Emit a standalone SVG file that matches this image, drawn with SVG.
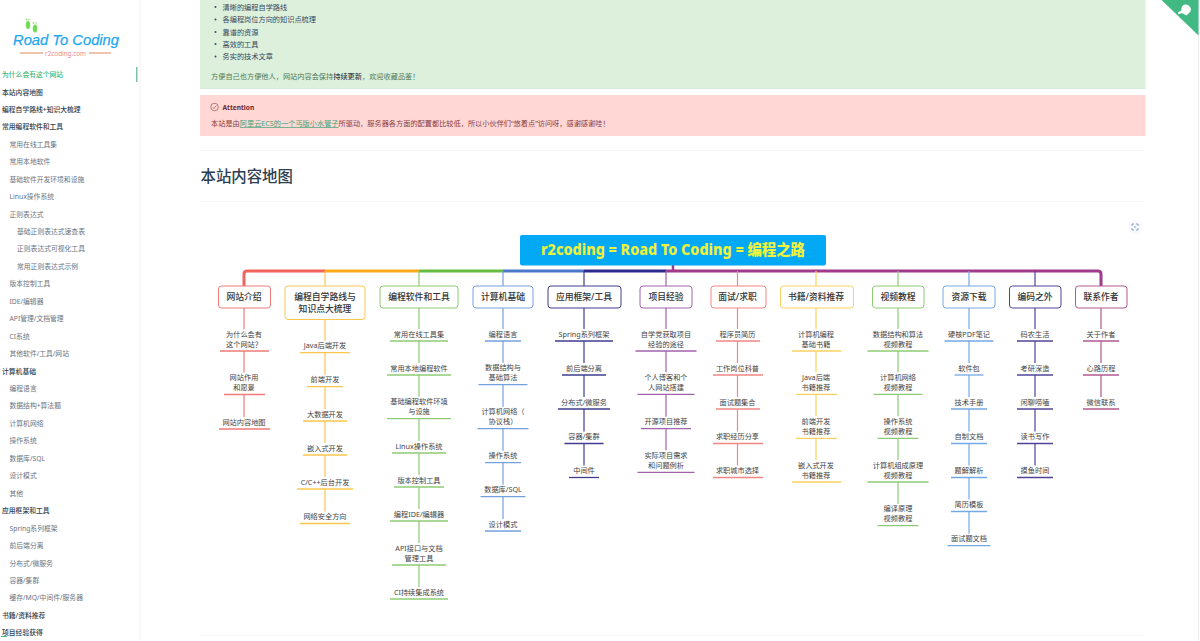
<svg xmlns="http://www.w3.org/2000/svg" width="1200" height="641" viewBox="0 0 1200 641">
<style>
text{font-family:"Noto Sans","Noto Sans CJK SC",sans-serif}
.s0{font-size:6.8px;fill:#2c3e50;font-weight:500}
.s1{font-size:6.8px;fill:#6a7480}
.s2{font-size:6.8px;fill:#6a7480}
.li{font-size:7.2px;fill:#34495e}
.p{font-size:7.2px;fill:#4f7a5a}
.w{font-size:7.2px;fill:#8a3a3a}
.l{font-size:7.2px;fill:#444;text-anchor:middle}
.t{font-size:8.8px;fill:#333;text-anchor:middle;font-weight:500}
.n path{stroke-width:1.300;fill:none}
.n rect{stroke-width:1;fill:#fff}
.c1 path,.c1 rect{stroke:#ee7b78}
.c2 path,.c2 rect{stroke:#fbc64e}
.c3 path,.c3 rect{stroke:#8ccb74}
.c4 path,.c4 rect{stroke:#74a0dd}
.c5 path,.c5 rect{stroke:#413c90}
.c6 path,.c6 rect{stroke:#a063ac}
.c7 path,.c7 rect{stroke:#f18782}
.c8 path,.c8 rect{stroke:#fdd160}
.c9 path,.c9 rect{stroke:#8ccb74}
.c10 path,.c10 rect{stroke:#74a8e4}
.c11 path,.c11 rect{stroke:#4f4498}
.c12 path,.c12 rect{stroke:#b2588f}
.n text{stroke:none}
#connectors path{fill:none;stroke-width:1.2}
#connectors #bar path{stroke-width:3}
</style>
<rect width="1200" height="641" fill="#fff"/>
<path d="M140 0V641" stroke="#f3f3f3" stroke-width="1"/>
<path d="M1198.500 0V641" stroke="#eeeeee" stroke-width="1"/>

<g id="logo">
<ellipse cx="28" cy="25" rx="2.200" ry="4" fill="#6fdc52"/>
<ellipse cx="35" cy="28.500" rx="2.200" ry="4" fill="#6fdc52"/>
<circle cx="26.500" cy="19.500" r="0.900" fill="#8fe676"/><circle cx="29" cy="19.500" r="0.800" fill="#8fe676"/>
<circle cx="33.500" cy="23" r="0.900" fill="#8fe676"/><circle cx="36" cy="23" r="0.800" fill="#8fe676"/>
<text x="13" y="45" font-size="15.500" font-style="italic" fill="#1ea7f0" stroke="#1ea7f0" stroke-width="0.250" textLength="106" lengthAdjust="spacingAndGlyphs" style="font-family:'Liberation Sans',sans-serif">Road To Coding</text>
<path d="M20 53H43M89 53H111" stroke="#e08a5c" stroke-width="1.200"/>
<text x="45" y="55.500" font-size="6.300" fill="#e98a8a" textLength="41">r2coding.com</text>
</g>

<g id="sidebar">
<rect x="136" y="67" width="1.500" height="15" fill="#7dbfa8"/>
<text x="2" y="77" class="s0" style="fill:#42b983">为什么会有这个网站</text>
<text x="2" y="94.500" class="s0">本站内容地图</text>
<text x="2" y="112" class="s0">编程自学路线+知识大梳理</text>
<text x="2" y="129" class="s0">常用编程软件和工具</text>
<text x="9.500" y="146.500" class="s1">常用在线工具集</text>
<text x="9.500" y="164" class="s1">常用本地软件</text>
<text x="9.500" y="181.500" class="s1">基础软件开发环境和设施</text>
<text x="9.500" y="199" class="s1">Linux操作系统</text>
<text x="9.500" y="216.500" class="s1">正则表达式</text>
<text x="17" y="233.500" class="s2">基础正则表达式速查表</text>
<text x="17" y="251" class="s2">正则表达式可视化工具</text>
<text x="17" y="268.500" class="s2">常用正则表达式示例</text>
<text x="9.500" y="286" class="s1">版本控制工具</text>
<text x="9.500" y="303.500" class="s1">IDE/编辑器</text>
<text x="9.500" y="321" class="s1">API管理/文档管理</text>
<text x="9.500" y="338.500" class="s1">CI系统</text>
<text x="9.500" y="356" class="s1">其他软件/工具/网站</text>
<text x="2" y="373.500" class="s0">计算机基础</text>
<text x="9.500" y="390.500" class="s1">编程语言</text>
<text x="9.500" y="408" class="s1">数据结构+算法题</text>
<text x="9.500" y="425.500" class="s1">计算机网络</text>
<text x="9.500" y="443" class="s1">操作系统</text>
<text x="9.500" y="460.500" class="s1">数据库/SQL</text>
<text x="9.500" y="478" class="s1">设计模式</text>
<text x="9.500" y="495.500" class="s1">其他</text>
<text x="2" y="513" class="s0">应用框架和工具</text>
<text x="9.500" y="530.500" class="s1">Spring系列框架</text>
<text x="9.500" y="548" class="s1">前后端分离</text>
<text x="9.500" y="565.500" class="s1">分布式/微服务</text>
<text x="9.500" y="582.500" class="s1">容器/集群</text>
<text x="9.500" y="600" class="s1">缓存/MQ/中间件/服务器</text>
<text x="2" y="617.500" class="s0">书籍/资料推荐</text>
<text x="2" y="635" class="s0">项目经验获得</text>
<path d="M1 636.500H7" stroke="#42b983" stroke-width="1"/>
</g>

<g id="notice-green">
<rect x="200" y="0" width="945.500" height="88.500" fill="#ddf0dc"/>
<path d="M200 88.500H1145.500" stroke="#d3e3d3" stroke-width="0.700"/>
<g fill="#34495e"><circle cx="215.500" cy="7" r="1"/><circle cx="215.500" cy="19.500" r="1"/><circle cx="215.500" cy="32" r="1"/><circle cx="215.500" cy="44" r="1"/><circle cx="215.500" cy="56.500" r="1"/></g>
<text x="222.500" y="9.500" class="li">清晰的编程自学路线</text>
<text x="222.500" y="22" class="li">各编程岗位方向的知识点梳理</text>
<text x="222.500" y="34.500" class="li">靠谱的资源</text>
<text x="222.500" y="46.500" class="li">高效的工具</text>
<text x="222.500" y="59" class="li">务实的技术文章</text>
<text x="211" y="78.500" class="p">方便自己也方便他人&#xFF0C;网站内容会保持<tspan fill="#2c3e50" font-weight="500">持续更新</tspan>&#xFF0C;欢迎收藏品鉴&#xFF01;</text>
</g>

<g id="notice-red">
<rect x="200" y="95" width="945.500" height="41" fill="#ffd8d6"/>
<circle cx="214.500" cy="107" r="3.800" fill="none" stroke="#8a3a3a" stroke-width="0.600"/>
<path d="M212.800 107.300L214 108.500L216.300 105.600" fill="none" stroke="#8a3a3a" stroke-width="0.600"/>
<text x="222.500" y="110" font-size="6.600" font-weight="700" fill="#6b2a30">Attention</text>
<text x="211" y="126" class="w">本站是由<tspan fill="#42a47a" text-decoration="underline">阿里云ECS的一个丐版小水管子</tspan>所驱动&#xFF0C;服务器各方面的配置都比较低&#xFF0C;所以小伙伴们&#x201C;悠着点&#x201D;访问呀&#xFF0C;感谢感谢哇&#xFF01;</text>
</g>

<path d="M200 150.500H1145" stroke="#f2f2f2" stroke-width="0.800"/>
<text x="200.500" y="182" font-size="15.400" font-weight="500" fill="#2c3e50">本站内容地图</text>
<path d="M200 201.500H1145" stroke="#f6f6f6" stroke-width="0.800"/>
<path d="M200 635.500H1145" stroke="#f4f4f4" stroke-width="0.800"/>

<g id="fullscreen">
<circle cx="1135" cy="227" r="7" fill="#f7f9fc"/>
<path d="M1132 226V224H1134M1136 224H1138V226M1138 228V230H1136M1134 230H1132V228" fill="none" stroke="#6f8fc0" stroke-width="0.800"/>
<circle cx="1135" cy="227" r="0.800" fill="#6f8fc0"/>
</g>

<g id="corner">
<path d="M1161.500 0H1198.500V35.500Z" fill="#42b983"/>
<path d="M1178 12.500C1179.500 11.500 1181 11 1181.500 10C1181 8.500 1181.800 6 1183 5.500C1184 4.300 1187 4 1188.500 5.500C1190.500 6.500 1191.500 9 1190.500 11.500L1186.500 15.500L1184.500 14.500C1183 13.500 1181.500 13 1180.500 13.500L1178.500 14.500Z" fill="#fff"/>
</g>

<g id="connectors">
<g id="bar">
<path d="M244 286V274Q244 271 247 271H325" stroke="#f0645c"/>
<path d="M325 271H419" stroke="#fbab18"/>
<path d="M419 271H503" stroke="#66bb44"/>
<path d="M503 271H584" stroke="#4a78c8"/>
<path d="M584 271H666" stroke="#2e2a8c"/>
<path d="M666 271H1098Q1101 271 1101 274V286" stroke="#a03a8c"/>
<path d="M673 265V270" stroke="#a03a8c" style="stroke-width:2.500"/>
</g>
<path d="M244 286V329M244 351V372.500M244 394.500V417" stroke="#ee7b78"/>
<path d="M325 271V340.700M325 352.700V374.700M325 386.700V409M325 421V443M325 455V477M325 489V511.500" stroke="#fbc64e"/>
<path d="M419 271V329M419 341V363M419 375V396.700M419 418.700V441M419 453V475M419 487V509M419 521V543M419 565V587" stroke="#8ccb74"/>
<path d="M503 271V329M503 341V362.700M503 384.700V406.700M503 428.700V450.700M503 462.700V484.700M503 496.700V519" stroke="#74a0dd"/>
<path d="M584 271V329M584 341V363M584 375V397M584 409V431.500M584 443.500V465.500" stroke="#413c90"/>
<path d="M666 271V329M666 351V372.300M666 394.300V416.700M666 428.700V450.300" stroke="#a063ac"/>
<path d="M737.500 271V329M737.500 341V363M737.500 375V397M737.500 409V431.500M737.500 443.500V465.500" stroke="#f18782"/>
<path d="M816 271V329M816 351V372.300M816 394.300V416.300M816 438.300V460" stroke="#fdd160"/>
<path d="M898 271V329M898 351V372.300M898 394.300V416.300M898 438.300V460M898 482V503.700" stroke="#8ccb74"/>
<path d="M969 271V329M969 341V363M969 375V397M969 409V431.500M969 443.500V465.500M969 477.500V499.500M969 511.500V533.700" stroke="#74a8e4"/>
<path d="M1035 271V329M1035 341V363M1035 375V397M1035 409V431.500M1035 443.500V465.500" stroke="#4f4498"/>
<path d="M1101 286V329M1101 341V363M1101 375V397" stroke="#b2588f"/>
</g>

<g id="root">
<rect x="520" y="235" width="306" height="30.500" rx="2" fill="#03a9f4"/>
<text x="541" y="255" font-size="15" font-weight="800" fill="#eef23a" textLength="264" lengthAdjust="spacingAndGlyphs">r2coding = Road To Coding = 编程之路</text>
</g>

<g id="t1" class="n c1"><rect x="218.500" y="286" width="52" height="22" rx="3"/><text class="t" x="244" y="300">网站介绍</text></g>
<g id="t2" class="n c2"><rect x="285" y="286" width="80" height="33.500" rx="3"/><text class="t" x="325" y="300">编程自学路线与</text><text class="t" x="325" y="311.500">知识点大梳理</text></g>
<g id="t3" class="n c3"><rect x="380" y="286" width="78" height="22" rx="3"/><text class="t" x="419" y="300">编程软件和工具</text></g>
<g id="t4" class="n c4"><rect x="473" y="286" width="60" height="22" rx="3"/><text class="t" x="503" y="300">计算机基础</text></g>
<g id="t5" class="n c5"><rect x="548" y="286" width="73" height="22" rx="3"/><text class="t" x="584" y="300">应用框架/工具</text></g>
<g id="t6" class="n c6"><rect x="640" y="286" width="52" height="22" rx="3"/><text class="t" x="666" y="300">项目经验</text></g>
<g id="t7" class="n c7"><rect x="711" y="286" width="55" height="22" rx="3"/><text class="t" x="737.500" y="300">面试/求职</text></g>
<g id="t8" class="n c8"><rect x="780.500" y="286" width="73" height="22" rx="3"/><text class="t" x="816" y="300">书籍/资料推荐</text></g>
<g id="t9" class="n c9"><rect x="872.500" y="286" width="51.500" height="22" rx="3"/><text class="t" x="898" y="300">视频教程</text></g>
<g id="t10" class="n c10"><rect x="943" y="286" width="52" height="22" rx="3"/><text class="t" x="969" y="300">资源下载</text></g>
<g id="t11" class="n c11"><rect x="1009.500" y="286" width="51.500" height="22" rx="3"/><text class="t" x="1035" y="300">编码之外</text></g>
<g id="t12" class="n c12"><rect x="1075.500" y="286" width="51.500" height="22" rx="3"/><text class="t" x="1101" y="300">联系作者</text></g>

<g id="l1-1" class="n c1"><path d="M220 351H269"/><text class="l" x="244" y="336.500">为什么会有</text><text class="l" x="244" y="346.500">这个网站&#xFF1F;</text></g>
<g id="l1-2" class="n c1"><path d="M224 394.500H265"/><text class="l" x="244" y="380">网站作用</text><text class="l" x="244" y="390">和愿景</text></g>
<g id="l1-3" class="n c1"><path d="M219 429H270"/><text class="l" x="244" y="424.500">网站内容地图</text></g>

<g id="l2-1" class="n c2"><path d="M300 352.700H350"/><text class="l" x="325" y="348">Java后端开发</text></g>
<g id="l2-2" class="n c2"><path d="M307 386.700H343"/><text class="l" x="325" y="382">前端开发</text></g>
<g id="l2-3" class="n c2"><path d="M303 421H347"/><text class="l" x="325" y="416.500">大数据开发</text></g>
<g id="l2-4" class="n c2"><path d="M303 455H347"/><text class="l" x="325" y="450.500">嵌入式开发</text></g>
<g id="l2-5" class="n c2"><path d="M297 489H353"/><text class="l" x="325" y="484.500">C/C++后台开发</text></g>
<g id="l2-6" class="n c2"><path d="M300 523.500H350"/><text class="l" x="325" y="519">网络安全方向</text></g>

<g id="l3-1" class="n c3"><path d="M390 341H448"/><text class="l" x="419" y="336.500">常用在线工具集</text></g>
<g id="l3-2" class="n c3"><path d="M387 375H451"/><text class="l" x="419" y="370.500">常用本地编程软件</text></g>
<g id="l3-3" class="n c3"><path d="M387 418.700H451"/><text class="l" x="419" y="404">基础编程软件环境</text><text class="l" x="419" y="414">与设施</text></g>
<g id="l3-4" class="n c3"><path d="M392 453H446"/><text class="l" x="419" y="448.500">Linux操作系统</text></g>
<g id="l3-5" class="n c3"><path d="M394 487H444"/><text class="l" x="419" y="482.500">版本控制工具</text></g>
<g id="l3-6" class="n c3"><path d="M390 521H448"/><text class="l" x="419" y="516.500">编程IDE/编辑器</text></g>
<g id="l3-7" class="n c3"><path d="M392 565H446"/><text class="l" x="419" y="550.500">API接口与文档</text><text class="l" x="419" y="560.500">管理工具</text></g>
<g id="l3-8" class="n c3"><path d="M390 599H448"/><text class="l" x="419" y="594.500">CI持续集成系统</text></g>

<g id="l4-1" class="n c4"><path d="M485 341H521"/><text class="l" x="503" y="336.500">编程语言</text></g>
<g id="l4-2" class="n c4"><path d="M478.500 384.700H527.500"/><text class="l" x="503" y="370">数据结构与</text><text class="l" x="503" y="380">基础算法</text></g>
<g id="l4-3" class="n c4"><path d="M477.500 428.700H528.500"/><text class="l" x="503" y="414">计算机网络&#xFF08;</text><text class="l" x="503" y="424">协议栈&#xFF09;</text></g>
<g id="l4-4" class="n c4"><path d="M485 462.700H521"/><text class="l" x="503" y="458">操作系统</text></g>
<g id="l4-5" class="n c4"><path d="M480.500 496.700H525.500"/><text class="l" x="503" y="492">数据库/SQL</text></g>
<g id="l4-6" class="n c4"><path d="M485 531H521"/><text class="l" x="503" y="526.500">设计模式</text></g>

<g id="l5-1" class="n c5"><path d="M555 341H613"/><text class="l" x="584" y="336.500">Spring系列框架</text></g>
<g id="l5-2" class="n c5"><path d="M562 375H606"/><text class="l" x="584" y="370.500">前后端分离</text></g>
<g id="l5-3" class="n c5"><path d="M558 409H610"/><text class="l" x="584" y="404.500">分布式/微服务</text></g>
<g id="l5-4" class="n c5"><path d="M564.500 443.500H603.500"/><text class="l" x="584" y="439">容器/集群</text></g>
<g id="l5-5" class="n c5"><path d="M569 477.500H599"/><text class="l" x="584" y="473">中间件</text></g>

<g id="l6-1" class="n c6"><path d="M635.500 351H696.500"/><text class="l" x="666" y="336.500">自学党获取项目</text><text class="l" x="666" y="346.500">经验的途径</text></g>
<g id="l6-2" class="n c6"><path d="M637.500 394.300H694.500"/><text class="l" x="666" y="380">个人博客和个</text><text class="l" x="666" y="390">人网站搭建</text></g>
<g id="l6-3" class="n c6"><path d="M641 428.700H691"/><text class="l" x="666" y="424">开源项目推荐</text></g>
<g id="l6-4" class="n c6"><path d="M637.500 472.300H694.500"/><text class="l" x="666" y="458">实际项目需求</text><text class="l" x="666" y="468">和问题例析</text></g>

<g id="l7-1" class="n c7"><path d="M716 341H760"/><text class="l" x="737.500" y="336.500">程序员简历</text></g>
<g id="l7-2" class="n c7"><path d="M713 375H763"/><text class="l" x="737.500" y="370.500">工作岗位科普</text></g>
<g id="l7-3" class="n c7"><path d="M716 409H760"/><text class="l" x="737.500" y="404.500">面试题集合</text></g>
<g id="l7-4" class="n c7"><path d="M713 443.500H763"/><text class="l" x="737.500" y="439">求职经历分享</text></g>
<g id="l7-5" class="n c7"><path d="M713 477.500H763"/><text class="l" x="737.500" y="473">求职城市选择</text></g>

<g id="l8-1" class="n c8"><path d="M792 351H841"/><text class="l" x="816" y="336.500">计算机编程</text><text class="l" x="816" y="346.500">基础书籍</text></g>
<g id="l8-2" class="n c8"><path d="M796 394.300H837"/><text class="l" x="816" y="380">Java后端</text><text class="l" x="816" y="390">书籍推荐</text></g>
<g id="l8-3" class="n c8"><path d="M796 438.300H837"/><text class="l" x="816" y="424">前端开发</text><text class="l" x="816" y="434">书籍推荐</text></g>
<g id="l8-4" class="n c8"><path d="M792 482H841"/><text class="l" x="816" y="467.500">嵌入式开发</text><text class="l" x="816" y="477.500">书籍推荐</text></g>

<g id="l9-1" class="n c9"><path d="M867.500 351H928.500"/><text class="l" x="898" y="336.500">数据结构和算法</text><text class="l" x="898" y="346.500">视频教程</text></g>
<g id="l9-2" class="n c9"><path d="M873.500 394.300H922.500"/><text class="l" x="898" y="380">计算机网络</text><text class="l" x="898" y="390">视频教程</text></g>
<g id="l9-3" class="n c9"><path d="M877.500 438.300H918.500"/><text class="l" x="898" y="424">操作系统</text><text class="l" x="898" y="434">视频教程</text></g>
<g id="l9-4" class="n c9"><path d="M867.500 482H928.500"/><text class="l" x="898" y="467.500">计算机组成原理</text><text class="l" x="898" y="477.500">视频教程</text></g>
<g id="l9-5" class="n c9"><path d="M877.500 525.700H918.500"/><text class="l" x="898" y="511">编译原理</text><text class="l" x="898" y="521">视频教程</text></g>

<g id="l10-1" class="n c10"><path d="M944.500 341H993.500"/><text class="l" x="969" y="336.500">硬核PDF笔记</text></g>
<g id="l10-2" class="n c10"><path d="M954.500 375H983.500"/><text class="l" x="969" y="370.500">软件包</text></g>
<g id="l10-3" class="n c10"><path d="M951 409H987"/><text class="l" x="969" y="404.500">技术手册</text></g>
<g id="l10-4" class="n c10"><path d="M951 443.500H987"/><text class="l" x="969" y="439">自制文档</text></g>
<g id="l10-5" class="n c10"><path d="M951 477.500H987"/><text class="l" x="969" y="473">题解解析</text></g>
<g id="l10-6" class="n c10"><path d="M951 511.500H987"/><text class="l" x="969" y="507">简历模板</text></g>
<g id="l10-7" class="n c10"><path d="M947.500 545.700H990.500"/><text class="l" x="969" y="541">面试题文档</text></g>

<g id="l11-1" class="n c11"><path d="M1017 341H1053"/><text class="l" x="1035" y="336.500">码农生活</text></g>
<g id="l11-2" class="n c11"><path d="M1017 375H1053"/><text class="l" x="1035" y="370.500">考研深造</text></g>
<g id="l11-3" class="n c11"><path d="M1017 409H1053"/><text class="l" x="1035" y="404.500">闲聊唠嗑</text></g>
<g id="l11-4" class="n c11"><path d="M1017 443.500H1053"/><text class="l" x="1035" y="439">读书写作</text></g>
<g id="l11-5" class="n c11"><path d="M1017 477.500H1053"/><text class="l" x="1035" y="473">摸鱼时间</text></g>

<g id="l12-1" class="n c12"><path d="M1083 341H1119"/><text class="l" x="1101" y="336.500">关于作者</text></g>
<g id="l12-2" class="n c12"><path d="M1083 375H1119"/><text class="l" x="1101" y="370.500">心路历程</text></g>
<g id="l12-3" class="n c12"><path d="M1083 409H1119"/><text class="l" x="1101" y="404.500">微信联系</text></g>
</svg>
